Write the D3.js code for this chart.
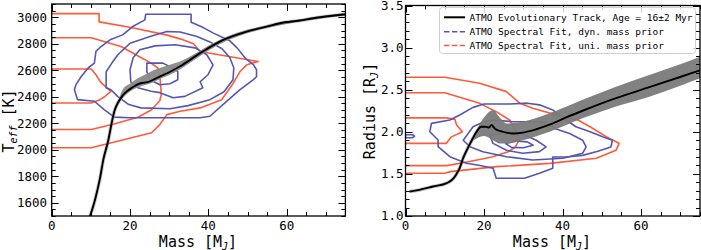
<!DOCTYPE html>
<html><head><meta charset="utf-8">
<script src="https://cdn.jsdelivr.net/npm/d3@7"></script>
<style>
body{margin:0;background:#fff}
svg{display:block}
text{font-family:"DejaVu Sans Mono",monospace;fill:#000}
</style></head>
<body><svg id="c" width="701" height="250"></svg>
<script>
// ---------------- DATA ----------------
const massTicks = [0, 20, 40, 60];
const teffTicks = [1600, 1800, 2000, 2200, 2400, 2600, 2800, 3000];
const radiusTicks = [1.0, 1.5, 2.0, 2.5, 3.0, 3.5];

// Evolutionary track, Teff panel  [mass, Teff]
const trackTeff = [[9.8,1500],[11.1,1627],[12.3,1780],[13.2,1927],[14.5,2077],[15.3,2200],[16.0,2290],[17.0,2360],[18.3,2416],[20.8,2474],[22.5,2500],[24.5,2510],[26.8,2541],[30,2585],[32.8,2630],[37.9,2729],[43.8,2829],[49.8,2892],[54.9,2929],[58.3,2955],[63.4,2975],[66.8,2992],[72.8,3015],[75,3022]];
const bandTeffMass = [17,18,20,22,24,26,28,30,33,36,40,45,50,55,60,65,70,75];
const bandTeffHi = [2360,2450,2500,2540,2570,2600,2620,2640,2670,2715,2785,2855,2905,2940,2970,2992,3013,3030];
const bandTeffLo = [2340,2385,2440,2470,2490,2510,2540,2565,2610,2670,2748,2826,2882,2920,2950,2975,2997,3014];

// Spectral fit contours, Teff panel (dyn. prior = blue, uni. prior = red)
const teffDyn1 = [[24.0,3023],[35.6,3023],[35.6,2962],[38.7,2922],[41.3,2880],[45.5,2822],[47.4,2767],[49.4,2692],[51.5,2642],[52.3,2604],[52.3,2551],[51.5,2529],[48.1,2454],[44.3,2356],[40.4,2253],[37.9,2241],[20.0,2241],[16.0,2246],[13.4,2303],[10.9,2366],[6.6,2378],[5.8,2454],[6.2,2491],[7.5,2551],[9.3,2617],[10.9,2654],[11.3,2742],[12.6,2779],[14.9,2830],[18.1,2867],[20.7,2930],[23.8,2980]];
const teffDyn2 = [[13.9,2468],[13.9,2589],[15.4,2656],[16.9,2717],[20.0,2804],[25.1,2854],[29.4,2892],[32.8,2889],[37.1,2854],[40.4,2814],[43.5,2762],[45.5,2694],[46.5,2619],[46.3,2528],[44.0,2438],[40.4,2378],[34.8,2333],[30.2,2310],[22.8,2316],[19.7,2341],[16.9,2401],[15.1,2453]];
const teffDyn3 = [[20.2,2513],[20.0,2604],[20.8,2694],[22.5,2754],[26.4,2784],[31.5,2792],[36.6,2769],[39.6,2717],[41.2,2641],[39.9,2566],[37.9,2513],[38.6,2468],[34.0,2403],[31.0,2393],[27.6,2431],[25.4,2441],[22.0,2468]];
const teffDyn4 = [[24.3,2654],[28.4,2654],[30.7,2619],[32.2,2589],[32.2,2528],[30.2,2498],[27.6,2491],[25.1,2528],[24.3,2589]];
const teffUni1 = [[0,3027],[12.1,3027],[12.1,2965],[20.3,2922],[29.2,2867],[33,2835],[36.2,2800],[37.9,2742],[52.7,2666],[49.8,2641],[48.1,2591],[46.4,2504],[45.5,2466],[43.4,2378],[37.9,2316],[32.8,2290],[29.4,2265],[27.6,2190],[25.5,2128],[16.8,2064],[10.1,2015],[0,2015]];
const teffUni2 = [[0,2845],[10.1,2845],[17.7,2779],[21.5,2717],[25.4,2654],[27.1,2617],[27.7,2528],[28,2416],[27.6,2370],[25.4,2300],[22,2245],[15.9,2195],[10.1,2153],[0,2153]];
const teffUni3 = [[0,2610],[10.1,2610],[11.3,2566],[12.5,2510],[15.1,2440],[13.5,2400],[12.3,2378],[10.1,2353],[0,2353]];

// Evolutionary track, Radius panel [mass, R]
const trackRad = [[1.0,1.29],[3.5,1.31],[7,1.35],[10.5,1.39],[12.1,1.44],[13,1.50],[13.8,1.57],[14.7,1.69],[15.8,1.80],[17.0,1.91],[18.1,2.0],[19.3,2.06],[20.5,2.06],[21.2,2.05],[21.9,2.08],[22.7,2.04],[24,2.01],[25.7,1.99],[27.5,1.98],[29.9,1.99],[33.3,2.03],[37,2.09],[40.9,2.17],[45.1,2.25],[53.6,2.40],[62.1,2.53],[70.5,2.66],[75,2.73]];
const bandRadMass = [16,17,18.5,20,22.3,24,25.7,29.9,36.7,45.1,53.6,62.1,70.5,75];
const bandRadHi = [1.82,1.93,2.06,2.17,2.26,2.17,2.10,2.12,2.22,2.38,2.535,2.675,2.81,2.89];
const bandRadLo = [1.78,1.88,1.93,1.95,1.90,1.86,1.86,1.90,2.0,2.16,2.30,2.417,2.556,2.635];

const radDyn1 = [[6.6,2.10],[11.3,2.14],[13.8,2.20],[17.2,2.29],[20,2.33],[26.5,2.33],[31,2.34],[34.1,2.32],[37.5,2.26],[40.9,2.14],[43.4,2.06],[47,2.0],[50.2,1.94],[52.7,1.90],[52.3,1.82],[49,1.77],[45.1,1.72],[41,1.70],[37.5,1.70],[37.5,1.567],[34.1,1.507],[30.3,1.448],[23.1,1.448],[22.3,1.567],[19,1.60],[15.5,1.626],[11.3,1.704],[8.3,1.823],[8.3,1.903],[6.2,2.0]];
const radDyn2 = [[14.7,1.90],[17.2,2.06],[20,2.12],[22.3,2.14],[27.4,2.12],[35,2.12],[38,2.04],[41.8,1.98],[45.1,1.90],[46,1.82],[45.1,1.745],[40.1,1.685],[32.4,1.665],[25.7,1.704],[19.7,1.764],[16.4,1.823]];
const radDyn3 = [[21.4,1.96],[25.7,1.99],[29.9,1.97],[33.3,1.90],[35.8,1.82],[34.1,1.764],[29.9,1.745],[25.7,1.78],[22.3,1.863]];
const radDyn4 = [[25.5,1.86],[28,1.89],[31,1.88],[32.5,1.84],[30,1.81],[27,1.815]];
const radDyn5 = [[0,1.965],[1.8,1.965],[2.3,1.948],[1.8,1.93],[0,1.93]];
const radUni1 = [[0,2.647],[10,2.647],[18.9,2.576],[25.7,2.477],[29.1,2.34],[32.4,2.28],[40,2.18],[43.9,2.14],[47,2.06],[51.1,1.942],[54.4,1.863],[53.6,1.78],[48.6,1.685],[36.7,1.625],[23.2,1.586],[11.4,1.527],[10,1.507],[0,1.507]];
const radUni2 = [[0,2.464],[10,2.464],[18.9,2.338],[23.1,2.239],[26.5,2.14],[28.5,1.98],[28.9,1.90],[28,1.82],[26,1.76],[22,1.70],[16,1.645],[10.5,1.598],[0,1.598]];
const radUni3 = [[0,2.165],[10.4,2.165],[12.6,2.148],[13,2.08],[14.5,2.0],[11.7,1.94],[10.4,1.863],[0,1.863]];

const legendLabels = ["ATMO Evolutionary Track, Age = 16\u00b12 Myr","ATMO Spectral Fit, dyn. mass prior","ATMO Spectral Fit, uni. mass prior"];

// ---------------- DRAW ----------------
const BLUE = "#5656b2", RED = "#ff5a3a";
const svg = d3.select("#c");

function panel(id, x, y) {
  const g = svg.append("g");
  const [x0, x1] = x.range(), [yb, yt] = y.range();
  svg.append("clipPath").attr("id", id).append("rect")
    .attr("x", x0).attr("y", yt).attr("width", x1 - x0).attr("height", yb - yt);
  const pg = g.append("g").attr("clip-path", `url(#${id})`);
  return {g, pg};
}

function drawTicks(g, x, y, xMajor, xMinorStep, yMajor, yMinorStep, yFmt, yLabelX) {
  const [x0, x1] = x.range(), [yb, yt] = y.range();
  const xd = x.domain(), yd = y.domain();
  const tk = g.append("g").attr("stroke", "#000").attr("stroke-width", 1);
  const L = 7, l = 4;
  const xMinor = d3.range(xd[0], xd[1] + 1e-9, xMinorStep);
  const yMinor = d3.range(Math.ceil(yd[0] / yMinorStep - 1e-9) * yMinorStep, yd[1] + 1e-9, yMinorStep);
  xMinor.forEach(v => {
    const px = Math.round(x(v)) + 0.5, len = xMajor.some(m => Math.abs(m - v) < 1e-6) ? L : l;
    tk.append("line").attr("x1", px).attr("x2", px).attr("y1", yb).attr("y2", yb - len);
    tk.append("line").attr("x1", px).attr("x2", px).attr("y1", yt).attr("y2", yt + len);
  });
  yMinor.forEach(v => {
    const py = Math.round(y(v)) + 0.5, len = yMajor.some(m => Math.abs(m - v) < 1e-6) ? L : l;
    tk.append("line").attr("y1", py).attr("y2", py).attr("x1", x0).attr("x2", x0 + len);
    tk.append("line").attr("y1", py).attr("y2", py).attr("x1", x1).attr("x2", x1 - len);
  });
  g.selectAll(null).data(xMajor).enter().append("text")
    .attr("x", d => x(d)).attr("y", yb + 14).attr("text-anchor", "middle")
    .attr("font-size", 12.5).text(d => d);
  g.selectAll(null).data(yMajor).enter().append("text")
    .attr("x", yLabelX).attr("y", d => y(d) + 4.4).attr("text-anchor", "end")
    .attr("font-size", 12.5).text(yFmt);
  g.append("rect").attr("x", x0).attr("y", yt).attr("width", x1 - x0).attr("height", yb - yt)
    .attr("fill", "none").attr("stroke", "#000").attr("stroke-width", 1.3);
}

function drawPanel(id, x, y, track, bandMass, bandHi, bandLo, dyn, uni, trackGrey) {
  const {g, pg} = panel(id, x, y);
  const line = d3.line().x(d => x(d[0])).y(d => y(d[1]));
  const area = d3.area().x(d => x(d.m)).y0(d => y(d.lo)).y1(d => y(d.hi)).curve(d3.curveMonotoneX);
  const bandData = bandMass.map((m, i) => ({m, hi: bandHi[i], lo: bandLo[i]}));
  uni.forEach(c => pg.append("path").attr("d", line(c)).attr("fill", "none")
    .attr("stroke", RED).attr("stroke-width", 1.6).attr("stroke-linejoin", "round"));
  dyn.forEach(c => pg.append("path").attr("d", line(c) + "Z").attr("fill", "none")
    .attr("stroke", BLUE).attr("stroke-width", 1.6).attr("stroke-linejoin", "round"));
  pg.append("path").attr("d", area(bandData)).attr("fill", trackGrey).attr("opacity", 0.95);
  const smooth = d3.line().x(d => x(d[0])).y(d => y(d[1])).curve(d3.curveMonotoneX);
  pg.append("path").attr("d", smooth(track)).attr("fill", "none")
    .attr("stroke", "#888").attr("stroke-width", 3.6).attr("opacity", 0.5);
  pg.append("path").attr("d", smooth(track)).attr("fill", "none")
    .attr("stroke", "#000").attr("stroke-width", 1.9);
  return g;
}

// Left panel: Teff
const xL = d3.scaleLinear().domain([0, 75]).range([51.7, 345.4]);
const yL = d3.scaleLinear().domain([1500, 3100]).range([216, 4]);
const gL = drawPanel("clipL", xL, yL, trackTeff, bandTeffMass, bandTeffHi, bandTeffLo,
  [teffDyn1, teffDyn2, teffDyn3, teffDyn4], [teffUni1, teffUni2, teffUni3], "#8a8a8a");
drawTicks(gL, xL, yL, massTicks, 5, teffTicks, 50, d => d, 47);

// Right panel: Radius
const xR = d3.scaleLinear().domain([0, 75]).range([405.5, 700]);
const yR = d3.scaleLinear().domain([1.0, 3.5]).range([216, 5.5]);
const gR = drawPanel("clipR", xR, yR, trackRad, bandRadMass, bandRadHi, bandRadLo,
  [radDyn1, radDyn2, radDyn3, radDyn4, radDyn5], [radUni1, radUni2, radUni3], "#7a7a7a");
drawTicks(gR, xR, yR, massTicks, 5, radiusTicks, 0.1, d3.format(".1f"), 403.5);

// Axis labels
function massLabel(cx) {
  const t = svg.append("text").attr("x", cx).attr("y", 246.5).attr("text-anchor", "middle").attr("font-size", 15);
  t.append("tspan").text("Mass [M");
  t.append("tspan").attr("font-size", 10).attr("font-style", "italic").attr("dy", 3).text("J");
  t.append("tspan").attr("dy", -3).text("]");
}
massLabel(198);
massLabel(552);

const tl = svg.append("text").attr("transform", "translate(13.5,121) rotate(-90)")
  .attr("text-anchor", "middle").attr("font-size", 15);
tl.append("tspan").text("T");
tl.append("tspan").attr("font-size", 10).attr("font-style", "italic").attr("dy", 3).text("eff");
tl.append("tspan").attr("dy", -3).text(" [K]");

const rl = svg.append("text").attr("transform", "translate(375,111) rotate(-90)")
  .attr("text-anchor", "middle").attr("font-size", 15);
rl.append("tspan").text("Radius [R");
rl.append("tspan").attr("font-size", 10).attr("font-style", "italic").attr("dy", 3).text("J");
rl.append("tspan").attr("dy", -3).text("]");

// Legend
const lg = svg.append("g");
lg.append("rect").attr("x", 439.5).attr("y", 7.5).attr("width", 256).attr("height", 46).attr("rx", 3)
  .attr("fill", "#fff").attr("fill-opacity", 0.8).attr("stroke", "#d0d0d0").attr("stroke-width", 1);
const legStyles = [{c: "#000", d: null}, {c: BLUE, d: "5.5,2.4"}, {c: RED, d: "5.5,2.4"}];
const legY = [17.3, 31.8, 45.5];
legendLabels.forEach((txt, i) => {
  lg.append("line").attr("x1", 444).attr("x2", 465).attr("y1", legY[i]).attr("y2", legY[i])
    .attr("stroke", legStyles[i].c).attr("stroke-width", i === 0 ? 2 : 1.6)
    .attr("stroke-dasharray", legStyles[i].d);
  lg.append("text").attr("x", 469.5).attr("y", legY[i] + 3.4).attr("font-size", 9.5).text(txt);
});
</script></body></html>
